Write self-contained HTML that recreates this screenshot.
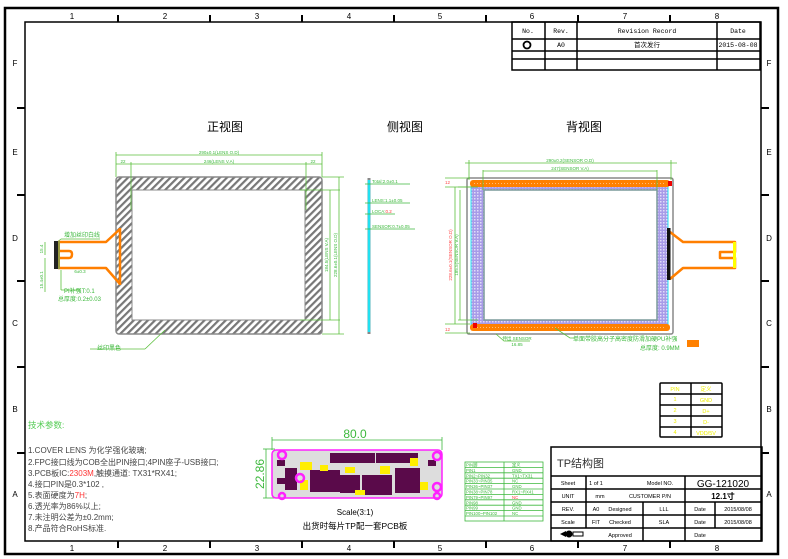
<!DOCTYPE html>
<html><head><meta charset="utf-8"><style>
html,body{margin:0;padding:0;background:#fff;}
svg{display:block;font-family:"Liberation Sans","Noto Sans CJK SC",sans-serif;}
.g{fill:#3cb83c;}
</style></head><body>
<svg width="788" height="559" viewBox="0 0 788 559" xmlns="http://www.w3.org/2000/svg">
<defs>
<pattern id="hatch" width="5" height="5" patternUnits="userSpaceOnUse" patternTransform="rotate(45)">
<rect width="5" height="5" fill="#fff"/><rect width="2.2" height="5" fill="#777"/>
</pattern>
<pattern id="dots" width="3" height="3" patternUnits="userSpaceOnUse">
<rect width="3" height="3" fill="#a89be8"/><rect width="1.5" height="1.5" fill="#e0dcf8"/>
</pattern>
</defs>
<rect width="788" height="559" fill="#fff"/>
<!-- frames -->
<rect x="5" y="8" width="773" height="546" fill="none" stroke="#000" stroke-width="2.5"/>
<rect x="25" y="22" width="736" height="519" fill="none" stroke="#000" stroke-width="1.5"/>
<g stroke="#000" stroke-width="2">
<line x1="118" y1="15" x2="118" y2="22"/><line x1="210" y1="15" x2="210" y2="22"/><line x1="302" y1="15" x2="302" y2="22"/><line x1="394" y1="15" x2="394" y2="22"/><line x1="486" y1="15" x2="486" y2="22"/><line x1="578" y1="15" x2="578" y2="22"/><line x1="670" y1="15" x2="670" y2="22"/>
<line x1="118" y1="541" x2="118" y2="548"/><line x1="210" y1="541" x2="210" y2="548"/><line x1="302" y1="541" x2="302" y2="548"/><line x1="394" y1="541" x2="394" y2="548"/><line x1="486" y1="541" x2="486" y2="548"/><line x1="578" y1="541" x2="578" y2="548"/><line x1="670" y1="541" x2="670" y2="548"/>
<line x1="17" y1="108" x2="25" y2="108"/><line x1="17" y1="195" x2="25" y2="195"/><line x1="17" y1="281" x2="25" y2="281"/><line x1="17" y1="367" x2="25" y2="367"/><line x1="17" y1="453" x2="25" y2="453"/>
<line x1="761" y1="108" x2="769" y2="108"/><line x1="761" y1="195" x2="769" y2="195"/><line x1="761" y1="281" x2="769" y2="281"/><line x1="761" y1="367" x2="769" y2="367"/><line x1="761" y1="453" x2="769" y2="453"/>
</g>
<g font-size="8" fill="#000" text-anchor="middle">
<text x="72" y="19">1</text><text x="165" y="19">2</text><text x="257" y="19">3</text><text x="349" y="19">4</text><text x="440" y="19">5</text><text x="532" y="19">6</text><text x="625" y="19">7</text><text x="717" y="19">8</text>
<text x="72" y="551">1</text><text x="165" y="551">2</text><text x="257" y="551">3</text><text x="349" y="551">4</text><text x="440" y="551">5</text><text x="532" y="551">6</text><text x="625" y="551">7</text><text x="717" y="551">8</text>
<text x="15" y="66">F</text><text x="15" y="155">E</text><text x="15" y="241">D</text><text x="15" y="326">C</text><text x="15" y="412">B</text><text x="15" y="497">A</text>
<text x="769" y="66">F</text><text x="769" y="155">E</text><text x="769" y="241">D</text><text x="769" y="326">C</text><text x="769" y="412">B</text><text x="769" y="497">A</text>
</g>
<!-- revision table -->
<g stroke="#000" stroke-width="1.5" fill="none">
<rect x="512" y="22" width="248" height="48"/>
<line x1="512" y1="39" x2="760" y2="39"/><line x1="512" y1="51" x2="760" y2="51"/><line x1="512" y1="59" x2="760" y2="59"/>
<line x1="545" y1="22" x2="545" y2="70"/><line x1="577" y1="22" x2="577" y2="70"/><line x1="717" y1="22" x2="717" y2="70"/>
</g>
<g font-size="6.5" text-anchor="middle" fill="#000" font-family="Liberation Mono, Noto Sans CJK SC, monospace">
<text x="528" y="33">No.</text><text x="561" y="33">Rev.</text><text x="647" y="33">Revision  Record</text><text x="738" y="33">Date</text>
<text x="561" y="47">A0</text><text x="647" y="47">首次发行</text><text x="738" y="47">2015-08-08</text>
</g>
<circle cx="527" cy="45" r="3.5" fill="none" stroke="#000" stroke-width="1.8"/>
<!-- titles -->
<g font-size="12" text-anchor="middle" fill="#000">
<text x="225" y="131">正视图</text><text x="405" y="131">侧视图</text><text x="584" y="131">背视图</text>
</g>
<!-- FRONT VIEW -->
<rect x="116" y="177" width="206" height="157" rx="3" fill="url(#hatch)" stroke="#888" stroke-width="1.5"/>
<rect x="132" y="190" width="173" height="130" fill="#fff" stroke="#888" stroke-width="1"/>
<g stroke="#5bbf3c" stroke-width="0.8" fill="none">
<line x1="116" y1="155" x2="322" y2="155"/><line x1="116" y1="152" x2="116" y2="177"/><line x1="322" y1="152" x2="322" y2="177"/>
<line x1="116" y1="164" x2="322" y2="164"/><line x1="131" y1="162" x2="131" y2="210"/><line x1="306" y1="162" x2="306" y2="210"/>
<line x1="300" y1="190" x2="340" y2="190"/><line x1="300" y1="320" x2="340" y2="320"/><line x1="322" y1="334" x2="344" y2="334"/><line x1="322" y1="177" x2="344" y2="177"/>
<line x1="330" y1="190" x2="330" y2="320"/><line x1="339" y1="177" x2="339" y2="334"/>
<line x1="90" y1="349" x2="145" y2="349"/><line x1="145" y1="349" x2="165" y2="330"/>
<line x1="61" y1="239" x2="100" y2="239"/><line x1="61" y1="239" x2="56" y2="243"/>
<line x1="45" y1="242" x2="45" y2="255"/><line x1="45" y1="258" x2="45" y2="292"/><line x1="61" y1="270" x2="61" y2="290"/><line x1="61" y1="290" x2="80" y2="290"/>
</g>
<g font-size="4.5" class="g" text-anchor="middle">
<text x="219" y="154">290±0.1(LENS O.D)</text><text x="219" y="163">246(LENS V.A)</text>
<text x="123" y="163">22</text><text x="313" y="163">22</text>
<text x="80" y="273">6±0.3</text>
</g>
<g font-size="4.5" class="g">
<text transform="translate(328,255) rotate(-90)" text-anchor="middle">184.5(LENS V.A)</text>
<text transform="translate(337,255) rotate(-90)" text-anchor="middle">228.6±0.1(LENS O.D)</text>
<text transform="translate(43,249) rotate(-90)" text-anchor="middle">15.4</text>
<text transform="translate(43,280) rotate(-90)" text-anchor="middle">15.4±0.1</text>
</g>
<g font-size="6" class="g">
<text x="64" y="237">增加丝印白线</text>
<text x="64" y="293">PI补强T:0.1</text>
<text x="58" y="301">总厚度:0.2±0.03</text>
<text x="97" y="350">丝印黑色</text>
</g>
<!-- front FPC -->
<g stroke="#ff7f00" stroke-width="2.5" fill="none" stroke-linejoin="round">
<polyline points="58,242 106,242 120,229"/><polyline points="58,268 106,268 120,284"/>
<line x1="120" y1="228" x2="120" y2="285"/>
<path d="M58,251 H69 Q72,251 72,254 Q72,258 69,258 H58"/>
</g>
<rect x="54" y="241" width="4" height="28" fill="#222"/><rect x="58" y="241" width="2" height="28" fill="#9a9a40"/>
<!-- SIDE VIEW -->
<line x1="369" y1="178" x2="369" y2="334" stroke="#888" stroke-width="3"/>
<line x1="369" y1="180" x2="369" y2="332" stroke="#22e0f0" stroke-width="2.5"/>
<g stroke="#3cb83c" stroke-width="0.8"><line x1="365" y1="184" x2="410" y2="184"/><line x1="365" y1="203" x2="410" y2="203"/><line x1="365" y1="214" x2="395" y2="214"/><line x1="365" y1="229" x2="415" y2="229"/></g>
<g font-size="4.5" class="g"><text x="372" y="183">Total:2.0±0.1</text><text x="372" y="202">LENS:1.1±0.05</text><text x="372" y="213">LOCA:<tspan fill="#f33">0.2</tspan></text><text x="372" y="228">SENSOR:0.7±0.05</text></g>
<!-- BACK VIEW -->
<rect x="467" y="178" width="206" height="156" rx="2" fill="#fff" stroke="#888" stroke-width="1.5"/>
<rect x="471" y="183" width="197" height="146" fill="url(#dots)" stroke="#22e0f0" stroke-width="1"/>
<rect x="484" y="190" width="173" height="130" fill="#fff" stroke="#7a9a9a" stroke-width="1.5"/>
<rect x="470" y="180" width="200" height="7" rx="3" fill="#ff8000"/>
<rect x="470" y="324" width="200" height="7" rx="3" fill="#ff8000"/>
<line x1="474" y1="183.5" x2="666" y2="183.5" stroke="#ffd0a0" stroke-width="0.8" stroke-dasharray="1,2"/>
<line x1="474" y1="327.5" x2="666" y2="327.5" stroke="#ffd0a0" stroke-width="0.8" stroke-dasharray="1,2"/>
<g stroke="#5bbf3c" stroke-width="0.8" fill="none">
<line x1="465" y1="163" x2="677" y2="163"/><line x1="469" y1="160" x2="469" y2="180"/><line x1="671" y1="160" x2="671" y2="180"/>
<line x1="483" y1="171" x2="657" y2="171"/><line x1="483" y1="170" x2="483" y2="190"/><line x1="657" y1="170" x2="657" y2="190"/>
<line x1="445" y1="178" x2="470" y2="178"/><line x1="445" y1="187" x2="470" y2="187"/><line x1="445" y1="324" x2="470" y2="324"/><line x1="445" y1="333" x2="470" y2="333"/>
<line x1="455" y1="187" x2="455" y2="324"/><line x1="458" y1="187" x2="478" y2="187"/><line x1="458" y1="320" x2="478" y2="320"/><line x1="460" y1="190" x2="460" y2="320"/>
<polyline points="496,334 504,341 530,341"/><polyline points="555,328 570,338 575,338"/>
</g>
<g font-size="4.5" class="g" text-anchor="middle"><text x="570" y="162">290±0.2(SENSOR O.D)</text><text x="570" y="170">247(SENSOR V.A)</text><text x="517" y="340">伸出 SENSOR</text><text x="517" y="346">16.85</text></g>
<g font-size="4.5" fill="#f44"><text transform="translate(452,255) rotate(-90)" text-anchor="middle">228.6±0.1(SENSOR O.D)</text><text x="445" y="184">12</text><text x="445" y="331">12</text></g>
<g font-size="4.5" class="g"><text transform="translate(458,255) rotate(-90)" text-anchor="middle">185.5(SENSOR V.A)</text></g>
<g font-size="6" class="g"><text x="573" y="341">单面带胶高分子高密度防滑加硬PU补强</text><text x="640" y="350">总厚度: 0.9MM</text></g>
<rect x="687" y="340" width="12" height="7" fill="#ff8000"/>
<rect x="668" y="181" width="4" height="5" fill="#e00"/><rect x="473" y="323" width="4" height="5" fill="#e00"/>
<!-- back FPC -->
<g stroke="#ff7f00" stroke-width="2.5" fill="none" stroke-linejoin="round">
<polyline points="670,232 683,242 735,242 735,252 720,252 720,258 735,258 735,268 683,268 670,279"/>
</g>
<rect x="733" y="242" width="3" height="26" fill="#ffff00"/>
<rect x="667" y="228" width="3.5" height="52" fill="#111"/>
<!-- tech params -->
<g font-size="8" fill="#444">
<text x="28" y="428" fill="#5c5" font-size="8.5">技术参数:</text>
<text x="28" y="453">1.COVER LENS 为化学强化玻璃;</text>
<text x="28" y="465">2.FPC接口线为COB全出PIN接口;4PIN座子-USB接口;</text>
<text x="28" y="476">3.PCB板IC:<tspan fill="#f33">2303M</tspan>,触摸通道: TX31*RX41;</text>
<text x="28" y="487">4.接口PIN是0.3*102 ,</text>
<text x="28" y="498">5.表面硬度为<tspan fill="#f33">7H</tspan>;</text>
<text x="28" y="509">6.透光率为86%以上;</text>
<text x="28" y="520">7.未注明公差为±0.2mm;</text>
<text x="28" y="531">8.产品符合RoHS标准.</text>
</g>
<!-- PCB -->
<g stroke="#3cb83c" stroke-width="0.8"><line x1="272" y1="440" x2="442" y2="440"/><line x1="272" y1="437" x2="272" y2="450"/><line x1="442" y1="437" x2="442" y2="450"/><line x1="266" y1="449" x2="266" y2="498"/><line x1="263" y1="449" x2="275" y2="449"/><line x1="263" y1="498" x2="275" y2="498"/></g>
<text x="355" y="438" font-size="12" class="g" text-anchor="middle">80.0</text>
<text transform="translate(264,474) rotate(-90)" font-size="12" class="g" text-anchor="middle">22.86</text>
<rect x="272" y="450" width="170" height="48" rx="4" fill="#ddd" stroke="#ff20ff" stroke-width="1.5"/>
<g fill="#5a0a4a">
<rect x="330" y="453" width="45" height="10"/><rect x="376" y="453" width="42" height="10"/>
<rect x="310" y="470" width="30" height="22"/><rect x="340" y="475" width="20" height="18"/><rect x="362" y="475" width="30" height="20"/>
<rect x="395" y="468" width="25" height="25"/><rect x="277" y="460" width="8" height="6"/><rect x="277" y="478" width="8" height="6"/>
<rect x="428" y="460" width="8" height="6"/><rect x="285" y="468" width="12" height="22"/>
</g>
<g fill="#ffee00"><rect x="300" y="462" width="12" height="8"/><rect x="320" y="465" width="8" height="6"/><rect x="345" y="467" width="10" height="6"/><rect x="300" y="480" width="8" height="10"/><rect x="380" y="466" width="10" height="8"/><rect x="410" y="458" width="8" height="8"/><rect x="420" y="482" width="8" height="8"/><rect x="355" y="490" width="10" height="5"/></g>
<g fill="none" stroke="#ff20ff" stroke-width="2.5"><circle cx="282" cy="455" r="4"/><circle cx="437" cy="456" r="4"/><circle cx="437" cy="487" r="4"/><circle cx="300" cy="478" r="4"/><circle cx="282" cy="496" r="3"/><circle cx="437" cy="496" r="3"/></g>
<text x="355" y="515" font-size="8" fill="#000" text-anchor="middle">Scale(3:1)</text>
<text x="355" y="529" font-size="8.5" fill="#000" text-anchor="middle">出货时每片TP配一套PCB板</text>
<!-- pin table -->
<g stroke="#3cb83c" stroke-width="0.8" fill="none">
<rect x="465" y="462" width="78" height="59"/><line x1="504" y1="462" x2="504" y2="521"/>
<line x1="465" y1="467.4" x2="543" y2="467.4"/><line x1="465" y1="472.8" x2="543" y2="472.8"/><line x1="465" y1="478.2" x2="543" y2="478.2"/><line x1="465" y1="483.6" x2="543" y2="483.6"/><line x1="465" y1="489" x2="543" y2="489"/><line x1="465" y1="494.4" x2="543" y2="494.4"/><line x1="465" y1="499.8" x2="543" y2="499.8"/><line x1="465" y1="505.2" x2="543" y2="505.2"/><line x1="465" y1="510.6" x2="543" y2="510.6"/><line x1="465" y1="516" x2="543" y2="516"/>
</g>
<g font-size="4.3" class="g">
<text x="466" y="466.5">PIN脚</text><text x="512" y="466.5">定义</text>
<text x="466" y="471.9">PIN1</text><text x="512" y="471.9">GND</text>
<text x="466" y="477.3">PIN2~PIN32</text><text x="512" y="477.3">TX1~TX31</text>
<text x="466" y="482.7">PIN33~PIN35</text><text x="512" y="482.7">NC</text>
<text x="466" y="488.1">PIN36~PIN37</text><text x="512" y="488.1">GND</text>
<text x="466" y="493.5">PIN38~PIN78</text><text x="512" y="493.5">RX1~RX41</text>
<text x="466" y="498.9">PIN79~PIN97</text><text x="512" y="498.9" fill="#f33">NC</text>
<text x="466" y="504.3">PIN98</text><text x="512" y="504.3">GND</text>
<text x="466" y="509.7">PIN99</text><text x="512" y="509.7">GND</text>
<text x="466" y="515.1">PIN100~PIN102</text><text x="512" y="515.1">NC</text>
</g>
<!-- small yellow-text table -->
<g stroke="#000" stroke-width="1.5" fill="none">
<rect x="660" y="383" width="62" height="54" rx="1"/><line x1="691" y1="383" x2="691" y2="437"/>
<line x1="660" y1="394" x2="722" y2="394"/><line x1="660" y1="405" x2="722" y2="405"/><line x1="660" y1="416" x2="722" y2="416"/><line x1="660" y1="427" x2="722" y2="427"/>
</g>
<g font-size="5.5" fill="#ee0" text-anchor="middle"><text x="675" y="391">PIN</text><text x="706" y="391">定义</text><text x="675" y="401">1</text><text x="706" y="402">GND</text><text x="675" y="412">2</text><text x="706" y="413">D+</text><text x="675" y="423">3</text><text x="706" y="424">D-</text><text x="675" y="434">4</text><text x="706" y="435">VDD/5V</text></g>
<!-- title block -->
<g stroke="#000" stroke-width="1.5" fill="none">
<rect x="551" y="447" width="211" height="94"/>
<line x1="551" y1="476" x2="762" y2="476"/><line x1="551" y1="489" x2="762" y2="489"/><line x1="551" y1="502" x2="762" y2="502"/><line x1="551" y1="515" x2="762" y2="515"/><line x1="551" y1="528" x2="762" y2="528"/>
<line x1="586" y1="476" x2="586" y2="528"/><line x1="643" y1="502" x2="643" y2="541"/><line x1="685" y1="476" x2="685" y2="541"/><line x1="715" y1="502" x2="715" y2="528"/>
</g>
<g font-size="5.5" fill="#000" text-anchor="middle">
<text x="568" y="485">Sheet</text><text x="596" y="485">1 of 1</text><text x="660" y="485">Model NO.</text>
<text x="568" y="498">UNIT</text><text x="600" y="498">mm</text><text x="650" y="498">CUSTOMER P/N</text>
<text x="568" y="511">REV.</text><text x="596" y="511">A0</text><text x="620" y="511">Designed</text><text x="664" y="511">LLL</text><text x="700" y="511">Date</text><text x="738" y="511">2015/08/08</text>
<text x="568" y="524">Scale</text><text x="596" y="524">FIT</text><text x="620" y="524">Checked</text><text x="664" y="524">SLA</text><text x="700" y="524">Date</text><text x="738" y="524">2015/08/08</text>
<text x="620" y="537">Approved</text><text x="700" y="537">Date</text>
</g>
<text x="557" y="467" font-size="11" fill="#333">TP结构图</text>
<text x="723" y="487" font-size="10" fill="#000" text-anchor="middle">GG-121020</text>
<text x="723" y="499" font-size="8" font-weight="bold" fill="#000" text-anchor="middle">12.1寸</text>
<g fill="#000"><circle cx="569" cy="534" r="3.5"/><polygon points="560,534 566,531 566,537"/><rect x="573" y="532" width="10" height="4" fill="none" stroke="#000" stroke-width="1"/></g>
</svg>
</body></html>
